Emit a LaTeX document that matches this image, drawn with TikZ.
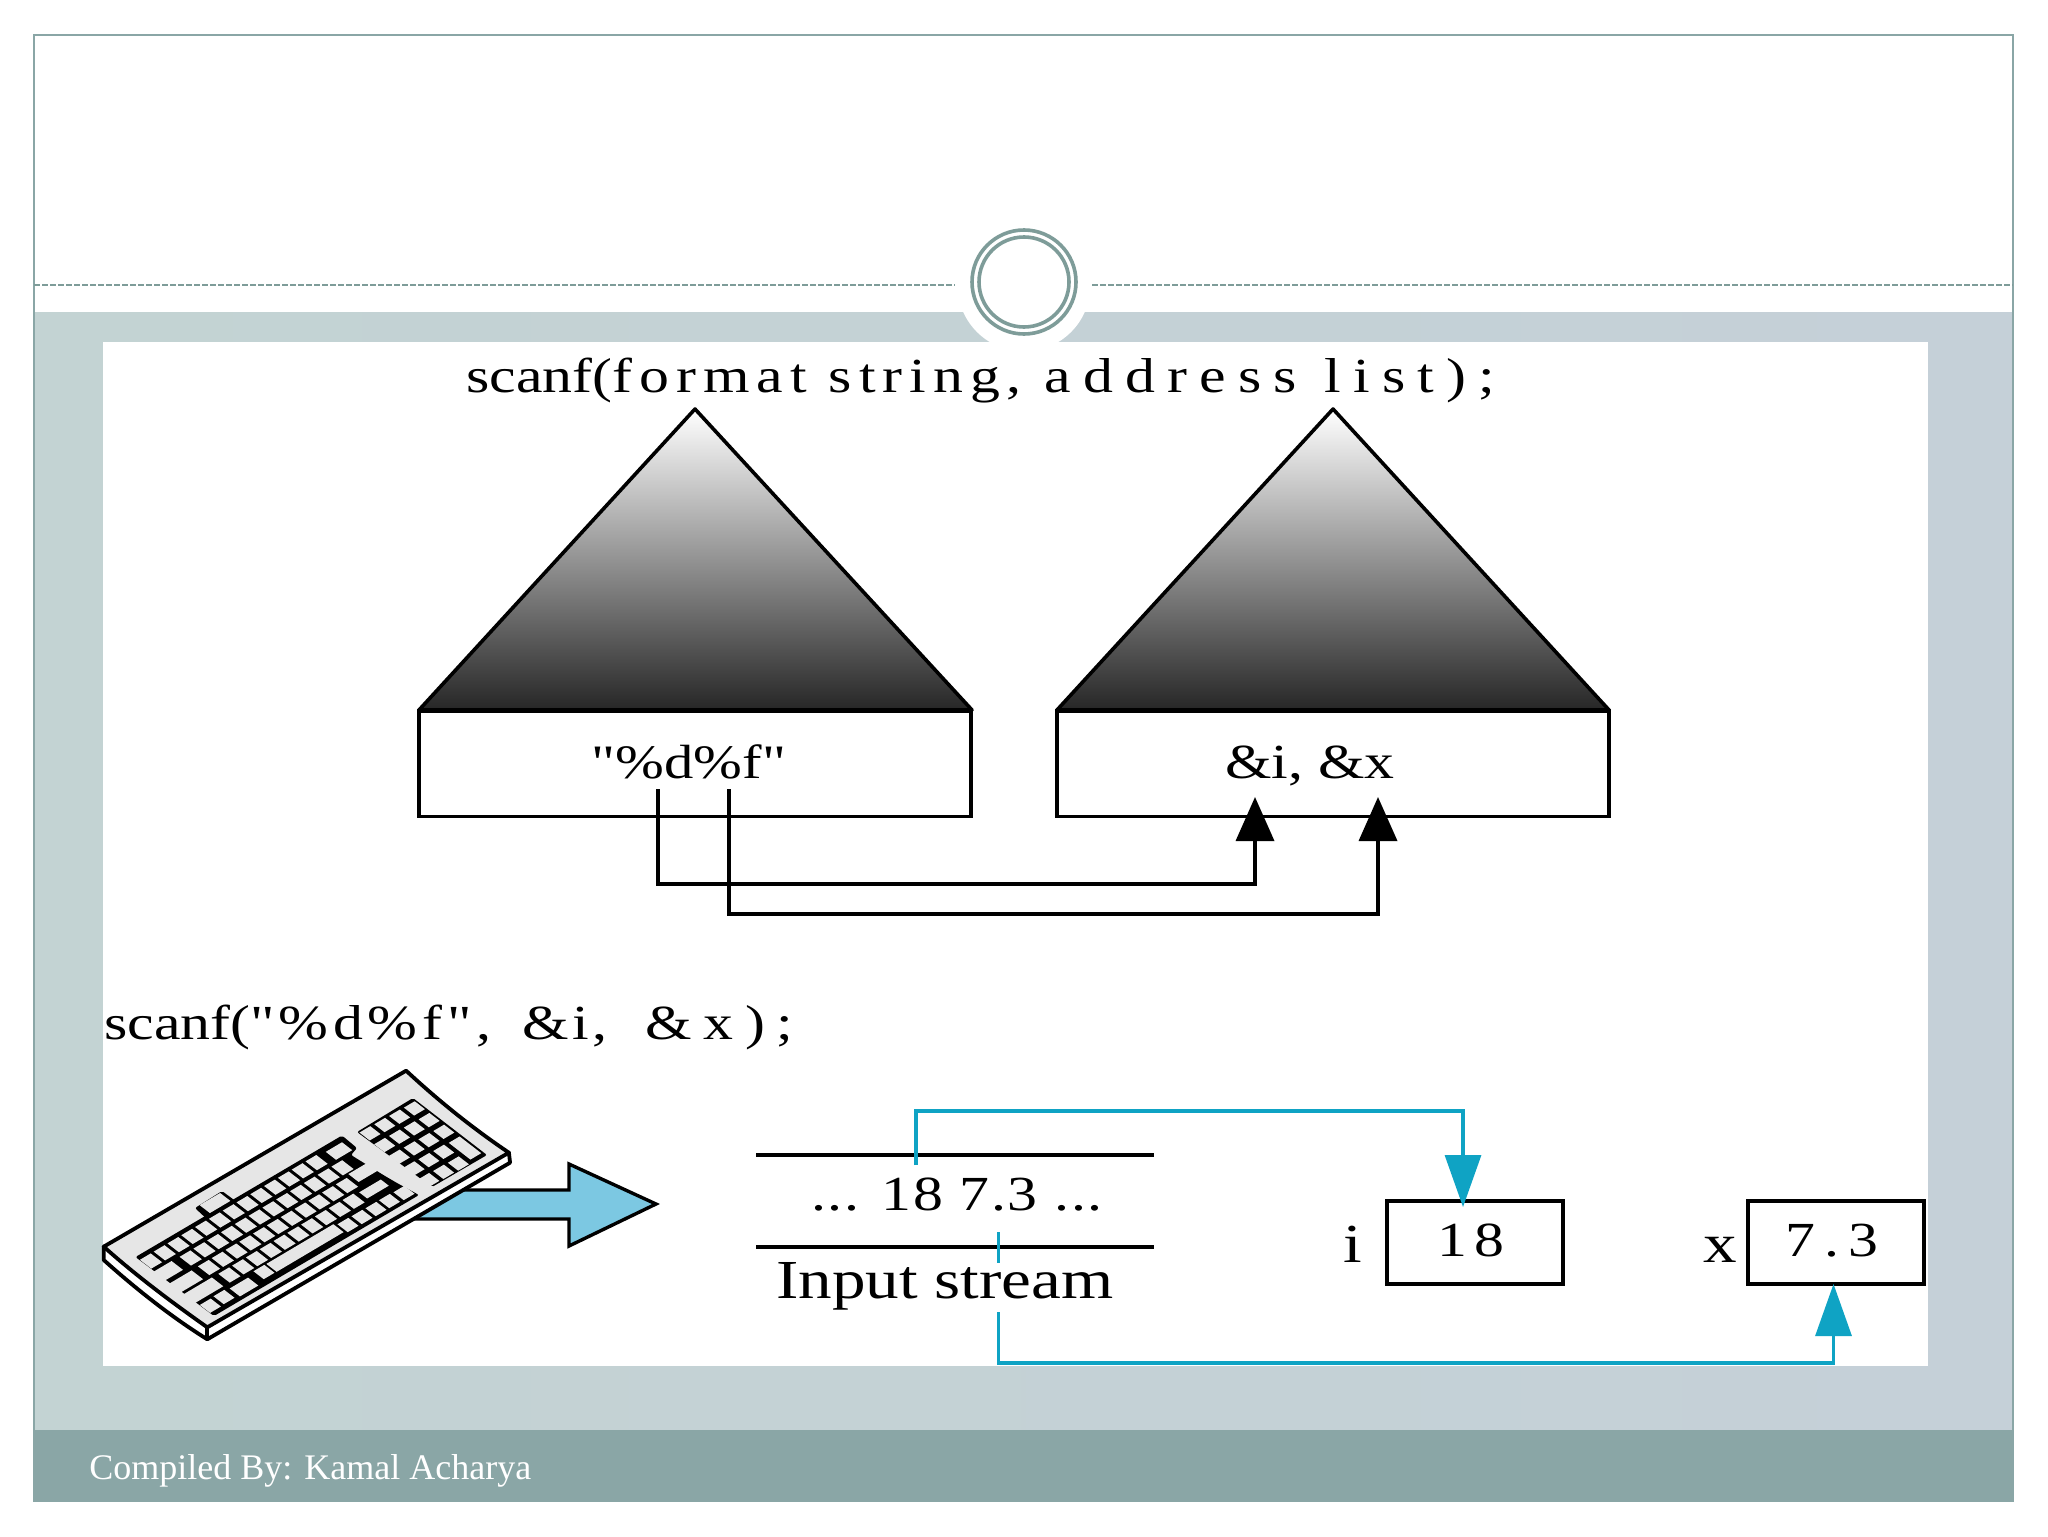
\documentclass[tikz,border=0pt]{standalone}
\usepackage{fontspec}
\setmainfont{Liberation Serif}
\newfontfamily\widefont[FakeStretch=1.22,Ligatures=NoCommon]{Liberation Serif}
\usetikzlibrary{arrows.meta,calc}
\definecolor{frameC}{HTML}{8AA6A6}
\definecolor{ringC}{HTML}{7E9C99}
\definecolor{bandL}{HTML}{C3D3D3}
\definecolor{bandR}{HTML}{C5D0D8}
\definecolor{flowC}{HTML}{0FA3C4}
\definecolor{bigC}{HTML}{7CC8E2}
\definecolor{faceC}{HTML}{E6E6E6}
\newcommand\ls[2]{{\addfontfeature{LetterSpace=#1}#2}}
\newcommand\qq{\char34\relax}
% one key: centre x, y, width along the long edge, width along the short edge
\newcommand\kbkey[4]{\fill[faceC] ({#1-5.4*#3-5.7*#4},{#2+3.2*#3-4.4*#4}) -- ({#1+5.4*#3-5.7*#4},{#2-3.2*#3-4.4*#4}) -- ({#1+5.4*#3+5.7*#4},{#2-3.2*#3+4.4*#4}) -- ({#1-5.4*#3+5.7*#4},{#2+3.2*#3+4.4*#4}) -- cycle;}
\newcommand\kbrow[3]{\foreach \i in {0,...,#3}{\kbkey{#1+13.8*\i}{#2-8.2*\i}{1}{1}}}
\tikzset{
  x=.5pt,y=-.5pt,
  txt/.style={inner sep=0pt,anchor=base west,font=\widefont\fontsize{24.5}{30}\selectfont},
  small/.style={inner sep=0pt,anchor=base,font=\widefont\fontsize{24.5}{28}\selectfont},
  big/.style={inner sep=0pt,anchor=base,font=\widefont\fontsize{27.5}{30}\selectfont},
  blk/.style={line width=1.8pt,draw=black},
  inbox/.style={blk,fill=white,inner sep=0pt,outer sep=0pt,anchor=north west},
  flowk/.style={draw=black,line width=1.8pt,-{Triangle[length=22pt,width=19pt,fill=black]}},
  flowb/.style={draw=flowC,line width=1.6pt,-{Triangle[length=26pt,width=18pt,fill=flowC]}},
  kk/.style={line width=1.9pt,draw=black,line join=round},
}
\begin{document}
\begin{tikzpicture}
\useasboundingbox (0,0) rectangle (2048,1536);
\fill[white] (0,0) rectangle (2048,1536);
% band
\shade[left color=bandL,right color=bandR] (34,312) rectangle (2013,1430);
\fill[white] (1024,285) circle[radius=66.5];
\fill[white] (34,35) rectangle (2013,312);
\fill[frameC] (34,1430) rectangle (2013,1501);
\draw[frameC,line width=.8pt] (34,35) rectangle (2013,1501);
\draw[ringC,line width=.6pt,dash pattern=on 3pt off 1pt] (34,285) -- (955,285) (1092,285) -- (2013,285);
\draw[ringC,line width=1.8pt] (1024,282) circle[radius=52] (1024,282) circle[radius=45];
\fill[white] (103,342) rectangle (1928,1366);
% triangles
\foreach \ax/\lx/\rx in {695/419/972,1333/1057/1609}{
  \shade[top color=white,bottom color=black!85] (\ax,409) -- (\rx,710) -- (\lx,710) -- cycle;
  \draw[line width=1.8pt,line join=round] (\ax,409) -- (\rx,710) -- (\lx,710) -- cycle;
}
\node[inbox,minimum width=276pt,minimum height=52.8pt] (fmtbox) at (419,711) {};
\node[inbox,minimum width=276pt,minimum height=52.8pt] (addrbox) at (1057,711) {};
\node[small,font=\widefont\fontsize{24}{28}\selectfont] (fmttext) at (689,778) {\qq\%d\%f\qq};
\node[small] (addrtext) at (1310,778) {\&i, \&x};
% connectors
\coordinate (s1) at (658,789); \coordinate (c1) at (658,884); \coordinate (d1) at (1255,884); \coordinate (t1) at (1255,797);
\coordinate (s2) at (729,789); \coordinate (c2) at (729,914); \coordinate (d2) at (1378,914); \coordinate (t2) at (1378,797);
\draw[flowk] (s1) -- (c1) -- (d1) -- (t1);
\draw[flowk] (s2) -- (c2) -- (d2) -- (t2);
% texts
\node[txt] (t1a) at (466,392) {scanf(};
\node[txt] (t1b) at (612,392) {\ls{14.3}{format string,}};
\node[txt] (t1c) at (1044,392) {\ls{25}{address list);}};
\node[txt] (t2a) at (104,1039) {scanf(\qq};
\node[txt] (t2b) at (278,1039) {\ls{10}{\%d\%f\qq,}};
\node[txt] (t2c) at (522,1039) {\ls{7.5}{\&i,}};
\node[txt] (t2d) at (645,1039) {\ls{24}{\&x);}};
% big arrow
\draw[line width=1.7pt,fill=bigC,line join=miter] (400,1190) -- (569,1190) -- (569,1164) -- (656,1204) -- (569,1246) -- (569,1219) -- (400,1219) -- cycle;
% keyboard body
\begin{scope}[shift={(80,1040)},xscale=0.3953,yscale=0.3333]
  \draw[kk,fill=white] (60,620) -- (60,660) .. controls (140,745) and (230,830) .. (322,898) -- (1088,368) -- (1085,338) -- cycle;
  \draw[kk,fill=faceC] (60,620) -- (825,92) .. controls (905,180) and (990,262) .. (1085,338) -- (322,862) .. controls (230,785) and (140,705) .. (60,620) -- cycle;
  \draw[kk] (322,862) -- (322,898);
\end{scope}
% key field
\fill[black,rounded corners=1pt] (135.5,1257) -- (342,1135.5) -- (357,1148) -- (351,1155) -- (385,1176) -- (397,1183) -- (419,1195) -- (214,1316) -- cycle;
\fill[black,rounded corners=1pt] (195,1208) -- (222,1191) -- (241,1205) -- (210,1222) -- cycle;
\kbkey{215}{1203}{1.9}{.9}
\kbrow{151}{1261}{12}
\kbkey{339}{1151}{1.5}{.9}
\kbkey{167}{1271.5}{1.9}{1}
\kbrow{190.7}{1258}{11}
\kbkey{186}{1281.5}{2.1}{1}
\kbrow{209}{1267.5}{10}
\kbkey{203}{1290.5}{2.7}{1}
\kbrow{229.4}{1275}{9}
\kbkey{210.4}{1305.7}{1}{.9}
\kbkey{224}{1297}{1}{.9}
\kbkey{244}{1287}{1.7}{.9}
\kbkey{264}{1272}{1}{.9}
\kbkey{305}{1248}{6.2}{.9}
\kbkey{348}{1225}{1}{.9}
\kbkey{362}{1217}{1}{.9}
\kbkey{376}{1209}{1}{.9}
\kbkey{389.5}{1201}{1}{.9}
\kbkey{404}{1193}{1}{.9}
\kbkey{367}{1170}{2.5}{.9}
\kbkey{374}{1189}{2}{.7}
% keypad
\fill[black,rounded corners=1pt] (357,1132) -- (413,1098) -- (487,1155) -- (432,1187) -- cycle;
\foreach \r in {0,...,4}{\foreach \c in {0,1,2}{\kbkey{370+14.8*\c+14.7*\r}{1133.3-8.3*\c+11.7*\r}{1}{.9}}}
\foreach \r in {0,1,2}{\kbkey{414.4+14.7*\r}{1108.4+11.7*\r}{1}{.9}}
\kbkey{465}{1148}{1}{1.9}
% stream
\coordinate (sa) at (756,1155); \coordinate (sb) at (1154,1155);
\coordinate (sc) at (756,1247); \coordinate (sd) at (1154,1247);
\draw[line width=1.8pt] (sa) -- (sb) (sc) -- (sd);
\node[small] (stream) at (957,1210) {\ls{3.4}{... 18 7.3 ...}};
\node[big,anchor=base west] (inp) at (776,1298) {Input stream};
% boxes
\node[inbox,minimum width=88pt,minimum height=41.4pt] (ibox) at (1387,1201) {};
\node[inbox,minimum width=88pt,minimum height=41.4pt] (xbox) at (1748,1201) {};
\node[small] (iv) at (1471,1256) {\ls{13}{18}};
\node[small] (xv) at (1832,1256) {\ls{18}{7.3}};
\node[big] (il) at (1353,1262) {i};
\node[big] (xl) at (1720,1262) {x};
% blue connectors
\coordinate (b1) at (916,1165); \coordinate (b2) at (916,1111); \coordinate (b3) at (1463,1111); \coordinate (b4) at (1463,1207);
\draw[flowb] (b1) -- (b2) -- (b3) -- (b4);
\coordinate (f1) at (998.5,1232); \coordinate (f2) at (998.5,1263);
\draw[draw=flowC,line width=1.6pt] (f1) -- (f2);
\coordinate (e1) at (998.5,1312); \coordinate (e2) at (998.5,1363); \coordinate (e3) at (1833.5,1363); \coordinate (e4) at (1833.5,1284);
\draw[flowb] (e1) -- (e2) -- (e3) -- (e4);
% footer
\node[inner sep=0pt,anchor=base west,text=white,font=\fontsize{18}{22}\selectfont] (foot) at (89,1479) {Compiled By: Kamal Acharya};
\end{tikzpicture}
\end{document}
